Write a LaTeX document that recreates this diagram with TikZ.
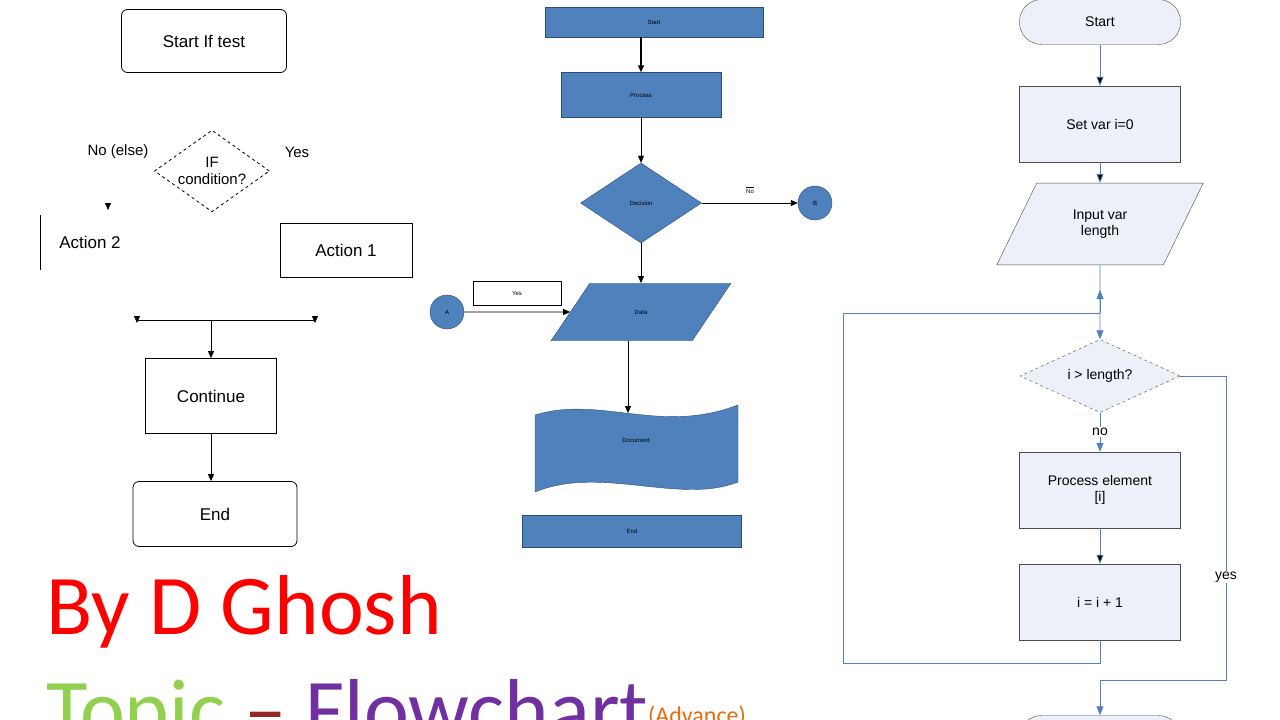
\documentclass[tikz,border=0pt]{standalone}
\usepackage{fontspec}
\setmainfont{Liberation Sans}
\newfontfamily\titlefont{Carlito}
\usetikzlibrary{arrows.meta, shapes.geometric, positioning}
\definecolor{midblue}{RGB}{79,129,189}
\definecolor{midedge}{RGB}{44,77,117}
\definecolor{lineblue}{RGB}{79,129,189}
\definecolor{paleblue}{RGB}{237,240,248}
\definecolor{tgreen}{RGB}{146,208,80}
\definecolor{tpurple}{RGB}{112,48,160}
\definecolor{tdash}{RGB}{150,40,40}
\definecolor{torange}{RGB}{228,108,10}
\tikzset{
  plainbox/.style={draw, thick, minimum width=#1, font=\fontsize{17}{19}\selectfont},
  bluebox/.style={draw=midedge, fill=midblue, minimum width=#1, font=\fontsize{6}{7}\selectfont},
  greybox/.style={draw=black!70, fill=paleblue, minimum width=161pt, minimum height=76pt,
    font=\fontsize{14}{16}\selectfont, align=center},
  conn/.style={draw=midedge, fill=midblue, circle, minimum size=34pt, font=\fontsize{6}{7}\selectfont},
  tip/.style={-{Triangle[length=7pt,width=6pt]}},
  bluetip/.style={draw=lineblue, thick, -{Triangle[length=9pt,width=7pt]}}
}
\begin{document}
\begin{tikzpicture}[x=1pt,y=-1pt]
    \useasboundingbox (0,0) rectangle (1280,720);
    \clip (0,0) rectangle (1280,720);

    % left chart
    \node[plainbox=165pt, rounded corners=6pt, minimum height=63pt] (S0) at (204,41) {Start If test};
    \node[draw, dashed, thick, diamond, aspect=1.35, minimum width=115pt, align=center,
      inner sep=1pt, font=\fontsize{15}{17}\selectfont] (D0) at (212,171) {IF\\condition?};
    \node[font=\fontsize{15}{17}\selectfont] (NoE) at (118,152) {No (else)};
    \node[font=\fontsize{15}{17}\selectfont] (Y0) at (297,152) {Yes};
    \node[plainbox=132pt, minimum height=54pt] (A1) at (346,250) {Action 1};
    \node[font=\fontsize{17}{19}\selectfont] (A2) at (90,242) {Action 2};
    \coordinate (A2l) at (40,215);
    \coordinate (M0) at (211,320);
    \coordinate (Ml) at (137,320);
    \coordinate (Mr) at (315,320);
    \node[plainbox=131pt, minimum height=75pt] (C0) at (211,396) {Continue};
    \node[plainbox=164pt, rounded corners=6pt, minimum height=65pt] (E0) at (215,514) {End};

    \path[thick, tip]
    (D0.east) -| (A1.north)
    (M0) edge (C0)
    (C0) edge (C0 |- E0.north)
    ;
    \draw[thick] (A2l) -- ++(0,55);
    \draw[thick] (Ml) -- (Mr);
    \draw[tip] (108,205) -- (108,210);
    \draw[tip] (Ml) -- ++(0,3);
    \draw[tip] (Mr) -- ++(0,3);

    % middle chart
    \node[bluebox=218pt, minimum height=30pt] (S1) at (654,22) {Start};
    \node[bluebox=160pt, minimum height=45pt] (P1) at (641,95) {Process};
    \node[diamond, draw=midedge, fill=midblue, minimum width=121pt, minimum height=80pt,
      font=\fontsize{6}{7}\selectfont] (D1) at (641,203) {Decision};
    \node[conn] (Cb) at (815,203) {B};
    \node[trapezium, trapezium left angle=56, trapezium right angle=124, draw=midedge,
      fill=midblue, minimum width=180pt, minimum height=45pt, font=\fontsize{6}{7}\selectfont]
      (Da) at (641,312) {Data};
    \node[conn] (Ca) at (447,312) {A};
    \node[draw, thick, minimum width=88pt, minimum height=24pt, font=\fontsize{6}{7}\selectfont]
      (Ys) at (517,293) {Yes};
    \node[font=\fontsize{6}{7}\selectfont] (N1) at (750,190) {$\overline{\mbox{No}}$};
    \draw[draw=midedge, fill=midblue] (535,415) .. controls (600,395) and (660,435) .. (738,405)
      -- (738,482) .. controls (680,505) and (600,465) .. (535,492) -- cycle;
    \node[font=\fontsize{6}{7}\selectfont] (Doc) at (636,440) {Document};
    \coordinate (Dt) at (628,413);
    \node[bluebox=219pt, minimum height=32pt] (E1) at (632,531) {End};

    \path[thick, tip]
    (D1.east) edge (Cb)
    (D1) edge (Da)
    (Ca) edge (Da.west)
    ;
    \draw[ultra thick, tip] (S1.south -| P1) -- (P1);
    \draw[tip] (P1) -- (D1);
    \draw[tip] (Da.south -| Dt) -- (Dt);

    % right chart
    \node[greybox, rounded corners=22pt, minimum height=45pt] (S2) at (1100,22) {Start};
    \node[greybox] (V2) at (1100,124) {Set var i=0};
    \node[greybox, trapezium, trapezium left angle=64, trapezium right angle=116,
      minimum width=207pt, minimum height=76pt, inner xsep=0pt] (In2) at (1100,224) {Input var\\length};
    \node[greybox, dashed, diamond, aspect=2.2, minimum width=160pt, minimum height=73pt,
      inner sep=0pt] (D2) at (1100,376) {i > length?};
    \node[font=\fontsize{14}{16}\selectfont, fill=white, inner sep=1pt] (No2) at (1100,432) {no};
    \node[greybox] (Pe2) at (1100,490) {Process element\\{[i]}};
    \node[greybox] (Inc2) at (1100,602) {i = i + 1};
    \node[greybox, rounded corners=22pt, minimum height=45pt] (E2) at (1100,738) {End};
    \node[font=\fontsize{14}{16}\selectfont, fill=white, inner sep=1pt] (Yes2) at (1226,577) {yes};
    \coordinate (J2) at (1100,313);

    \path[bluetip]
    (S2) edge (V2)
    (V2) edge (In2)
    (Pe2) edge (Inc2)
    ;
    \draw[bluetip] (In2.south) -- (D2.north);
    \draw[draw=lineblue, thick] (Inc2.south) |- (843,663) |- (J2);
    \draw[bluetip] (J2) -- (1100,290);
    \draw[draw=lineblue, thick] (D2.south) -- (No2);
    \draw[bluetip] (No2) -- (Pe2);
    \draw[draw=lineblue, thick] (D2.east) -| (Yes2);
    \draw[bluetip] (Yes2) |- (1100,680) -- (E2.north);

    % title
    \node[anchor=base west, text=red, font=\titlefont\fontsize{85}{90}\selectfont, inner xsep=0pt] (T1) at (46,634) {By D Ghosh};
    \node[anchor=base west, font=\titlefont\fontsize{85}{90}\selectfont, inner xsep=0pt] (T2) at (46,738)
      {\textcolor{tgreen}{Topic} \textcolor{tdash}{–} \textcolor{tpurple}{Flowchart}\raisebox{15pt}{\textcolor{torange}{\fontsize{24}{26}\selectfont(Advance)}}};
\end{tikzpicture}
\end{document}
